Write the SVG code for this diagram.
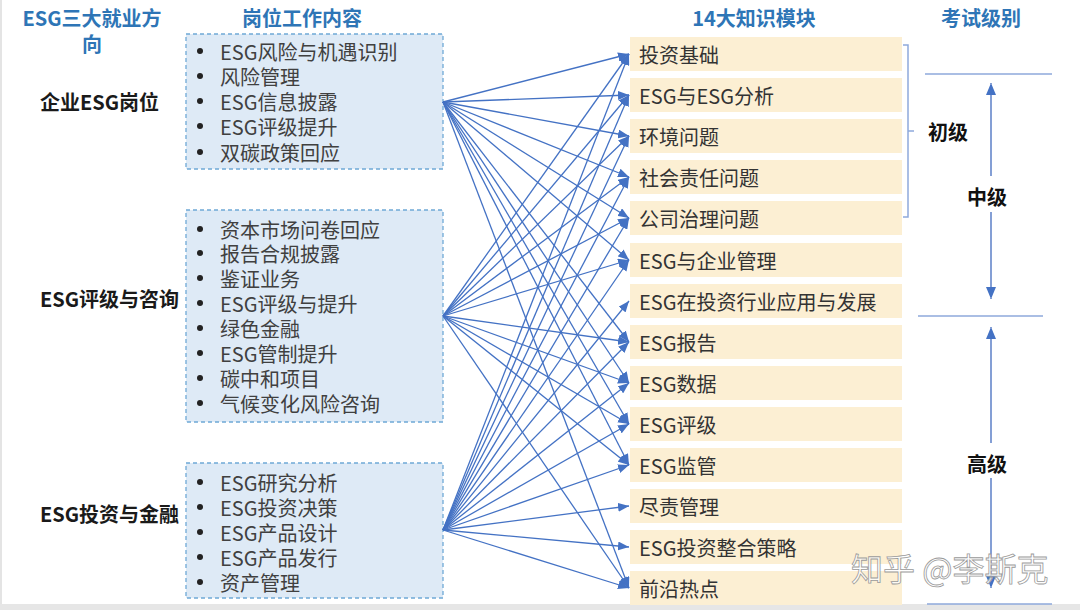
<svg xmlns="http://www.w3.org/2000/svg" width="1080" height="610" viewBox="0 0 1080 610">
<style>
text{font-family:"Noto Sans CJK SC","Microsoft YaHei",sans-serif;dominant-baseline:central}
.hdr{font-size:20px;font-weight:bold;fill:#2E75B6;text-anchor:middle}
.lbl{font-size:20px;font-weight:bold;fill:#1a1a1a}
.item{font-size:20px;fill:#404040}
.bullets circle{fill:#222}
.mod{font-size:20px;fill:#333}
.box{fill:#DEEAF6;stroke:#6FA9D6;stroke-width:1.3;stroke-dasharray:4 3}
.mbox{fill:#FCEFD3}
.lvl{font-size:20px;font-weight:bold;fill:#111;text-anchor:middle}
#connectors line{stroke:#4472C4;stroke-width:1.3;marker-end:url(#ah)}
.gl{stroke:#8EA9DB;stroke-width:1.5;fill:none}
.da{stroke:#5B7FC7;stroke-width:1.5;marker-end:url(#ah2)}
</style>
<defs>
<marker id="ah" markerUnits="userSpaceOnUse" markerWidth="11" markerHeight="9" refX="11" refY="4.5" orient="auto"><path d="M0,0 L11,4.5 L0,9 z" fill="#4472C4"/></marker>
<marker id="ah2" markerUnits="userSpaceOnUse" markerWidth="10" markerHeight="12" refX="12" refY="5" orient="auto"><path d="M0,0 L12,5 L0,10 z" fill="#4472C4"/></marker>
</defs>
<rect width="1080" height="610" fill="#ffffff"/>
<rect x="0" y="0" width="2" height="610" fill="#e4e4e4"/>
<rect x="0" y="604" width="1080" height="6" fill="#e6e6e6"/>

<g id="headers">
<text class="hdr" x="92" y="17">ESG三大就业方</text>
<text class="hdr" x="92" y="43">向</text>
<text class="hdr" x="302" y="17">岗位工作内容</text>
<text class="hdr" x="754" y="17">14大知识模块</text>
<text class="hdr" x="981" y="17">考试级别</text>
</g>

<g id="dir1"><text class="lbl" x="40" y="101">企业ESG岗位</text></g>
<g id="dir2"><text class="lbl" x="40" y="298">ESG评级与咨询</text></g>
<g id="dir3"><text class="lbl" x="40" y="513">ESG投资与金融</text></g>

<g id="job1">
<rect class="box" x="186" y="34" width="257" height="135"/>
<g class="bullets"><circle cx="200" cy="51" r="3"/><circle cx="200" cy="76" r="3"/><circle cx="200" cy="101" r="3"/><circle cx="200" cy="126" r="3"/><circle cx="200" cy="152" r="3"/></g>
<text class="item" x="220" y="51">ESG风险与机遇识别</text>
<text class="item" x="220" y="76">风险管理</text>
<text class="item" x="220" y="101">ESG信息披露</text>
<text class="item" x="220" y="126">ESG评级提升</text>
<text class="item" x="220" y="152">双碳政策回应</text>
</g>
<g id="job2">
<rect class="box" x="186" y="210" width="257" height="212"/>
<g class="bullets"><circle cx="200" cy="229" r="3"/><circle cx="200" cy="253" r="3"/><circle cx="200" cy="278" r="3"/><circle cx="200" cy="303" r="3"/><circle cx="200" cy="328" r="3"/><circle cx="200" cy="353" r="3"/><circle cx="200" cy="378" r="3"/><circle cx="200" cy="403" r="3"/></g>
<text class="item" x="220" y="229">资本市场问卷回应</text>
<text class="item" x="220" y="253">报告合规披露</text>
<text class="item" x="220" y="278">鉴证业务</text>
<text class="item" x="220" y="303">ESG评级与提升</text>
<text class="item" x="220" y="328">绿色金融</text>
<text class="item" x="220" y="353">ESG管制提升</text>
<text class="item" x="220" y="378">碳中和项目</text>
<text class="item" x="220" y="403">气候变化风险咨询</text>
</g>
<g id="job3">
<rect class="box" x="186" y="463" width="257" height="135"/>
<g class="bullets"><circle cx="200" cy="482" r="3"/><circle cx="200" cy="507" r="3"/><circle cx="200" cy="532" r="3"/><circle cx="200" cy="557" r="3"/><circle cx="200" cy="582" r="3"/></g>
<text class="item" x="220" y="482">ESG研究分析</text>
<text class="item" x="220" y="507">ESG投资决策</text>
<text class="item" x="220" y="532">ESG产品设计</text>
<text class="item" x="220" y="557">ESG产品发行</text>
<text class="item" x="220" y="582">资产管理</text>
</g>

<g id="m1"><rect class="mbox" x="630" y="37" width="272" height="34"/><text class="mod" x="639" y="54">投资基础</text></g>
<g id="m2"><rect class="mbox" x="630" y="78" width="272" height="34"/><text class="mod" x="639" y="95">ESG与ESG分析</text></g>
<g id="m3"><rect class="mbox" x="630" y="119" width="272" height="34"/><text class="mod" x="639" y="136">环境问题</text></g>
<g id="m4"><rect class="mbox" x="630" y="160" width="272" height="34"/><text class="mod" x="639" y="177">社会责任问题</text></g>
<g id="m5"><rect class="mbox" x="630" y="201" width="272" height="34"/><text class="mod" x="639" y="218">公司治理问题</text></g>
<g id="m6"><rect class="mbox" x="630" y="243" width="272" height="34"/><text class="mod" x="639" y="260">ESG与企业管理</text></g>
<g id="m7"><rect class="mbox" x="630" y="284" width="272" height="34"/><text class="mod" x="639" y="301">ESG在投资行业应用与发展</text></g>
<g id="m8"><rect class="mbox" x="630" y="325" width="272" height="34"/><text class="mod" x="639" y="342">ESG报告</text></g>
<g id="m9"><rect class="mbox" x="630" y="366" width="272" height="34"/><text class="mod" x="639" y="383">ESG数据</text></g>
<g id="m10"><rect class="mbox" x="630" y="407" width="272" height="34"/><text class="mod" x="639" y="424">ESG评级</text></g>
<g id="m11"><rect class="mbox" x="630" y="448" width="272" height="34"/><text class="mod" x="639" y="465">ESG监管</text></g>
<g id="m12"><rect class="mbox" x="630" y="489" width="272" height="34"/><text class="mod" x="639" y="506">尽责管理</text></g>
<g id="m13"><rect class="mbox" x="630" y="530" width="272" height="34"/><text class="mod" x="639" y="547">ESG投资整合策略</text></g>
<g id="m14"><rect class="mbox" x="630" y="571" width="272" height="34"/><text class="mod" x="639" y="588">前沿热点</text></g>

<g id="connectors">
<line x1="443" y1="102" x2="629" y2="54"/>
<line x1="443" y1="102" x2="629" y2="95"/>
<line x1="443" y1="102" x2="629" y2="136"/>
<line x1="443" y1="102" x2="629" y2="177"/>
<line x1="443" y1="102" x2="629" y2="218"/>
<line x1="443" y1="102" x2="629" y2="260"/>
<line x1="443" y1="102" x2="629" y2="342"/>
<line x1="443" y1="102" x2="629" y2="383"/>
<line x1="443" y1="102" x2="629" y2="424"/>
<line x1="443" y1="102" x2="629" y2="465"/>
<line x1="443" y1="102" x2="629" y2="588"/>

<line x1="443" y1="316" x2="629" y2="54"/>
<line x1="443" y1="316" x2="629" y2="95"/>
<line x1="443" y1="316" x2="629" y2="136"/>
<line x1="443" y1="316" x2="629" y2="177"/>
<line x1="443" y1="316" x2="629" y2="218"/>
<line x1="443" y1="316" x2="629" y2="260"/>
<line x1="443" y1="316" x2="629" y2="342"/>
<line x1="443" y1="316" x2="629" y2="383"/>
<line x1="443" y1="316" x2="629" y2="424"/>
<line x1="443" y1="316" x2="629" y2="465"/>
<line x1="443" y1="316" x2="629" y2="588"/>

<line x1="443" y1="530" x2="629" y2="54"/>
<line x1="443" y1="530" x2="629" y2="95"/>
<line x1="443" y1="530" x2="629" y2="136"/>
<line x1="443" y1="530" x2="629" y2="177"/>
<line x1="443" y1="530" x2="629" y2="218"/>
<line x1="443" y1="530" x2="629" y2="260"/>
<line x1="443" y1="530" x2="629" y2="301"/>
<line x1="443" y1="530" x2="629" y2="342"/>
<line x1="443" y1="530" x2="629" y2="383"/>
<line x1="443" y1="530" x2="629" y2="424"/>
<line x1="443" y1="530" x2="629" y2="465"/>
<line x1="443" y1="530" x2="629" y2="506"/>
<line x1="443" y1="530" x2="629" y2="547"/>
<line x1="443" y1="530" x2="629" y2="588"/>
</g>

<g id="level-primary">
<path class="gl" d="M903,45 H908 V217 H903 M908,131 H914"/>
<text class="lvl" x="948" y="131">初级</text>
</g>
<g id="level-lines">
<line class="gl" x1="925" y1="74" x2="1052" y2="74"/>
<line class="gl" x1="918" y1="316" x2="1043" y2="316"/>
<line class="gl" x1="927" y1="604" x2="1052" y2="604"/>
</g>
<g id="level-mid">
<line class="da" x1="991" y1="176" x2="991" y2="83"/>
<line class="da" x1="991" y1="212" x2="991" y2="299"/>
<text class="lvl" x="987" y="196">中级</text>
</g>
<g id="level-high">
<line class="da" x1="991" y1="443" x2="991" y2="327"/>
<line class="da" x1="991" y1="478" x2="991" y2="588"/>
<text class="lvl" x="987" y="463">高级</text>
</g>

<text x="851" y="567" font-size="32" fill="#ffffff" fill-opacity="0.75" stroke="#9a9a9a" stroke-width="0.8">知乎 @李斯克</text>
</svg>
